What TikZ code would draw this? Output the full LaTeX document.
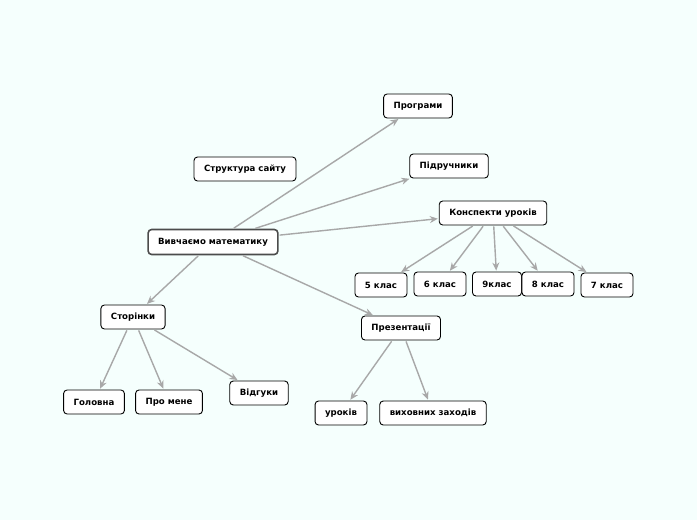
\documentclass[tikz,border=0pt]{standalone}
\usepackage{fontspec}
\setmainfont{DejaVu Sans}
\usepackage{tikz}
\usetikzlibrary{arrows.meta}
\definecolor{bgcol}{RGB}{245,255,253}
\definecolor{linecol}{RGB}{168,168,168}
\tikzset{
  topic/.style={draw=black, fill=white, rounded corners=3.5pt, line width=0.9pt,
    font=\bfseries\fontsize{8.6}{10}\selectfont, minimum height=24pt, inner xsep=10pt},
  maintopic/.style={topic, draw=black!70, line width=1.6pt, minimum height=25pt},
  link/.style={-{Stealth[length=8pt,width=7pt]}, draw=linecol, line width=1.4pt,
    shorten <=1pt, shorten >=1pt}
}
\begin{document}
\begin{tikzpicture}[x=1pt,y=-1pt]
\fill[bgcol] (0,0) rectangle (697,520);
\useasboundingbox (0,0) rectangle (697,520);

% centre
\node[maintopic] (main) at (213,242) {Вивчаємо математику};
\node[topic] (struct) at (245,169) {Структура сайту};

% right branch
\node[topic] (prog) at (418,106) {Програми};
\node[topic] (pidr) at (449,166) {Підручники};
\node[topic] (konsp) at (493,213) {Конспекти уроків};

% classes
\node[topic] (k5) at (381,285) {5 клас};
\node[topic] (k6) at (440,284) {6 клас};
\node[topic] (k9) at (497,284) {9клас};
\node[topic] (k8) at (548,284) {8 клас};
\node[topic] (k7) at (607,285) {7 клас};

% pages
\node[topic] (stor) at (133,317) {Сторінки};
\node[topic] (golov) at (94,402) {Головна};
\node[topic] (pro) at (169,402) {Про мене};
\node[topic] (vidg) at (259,393) {Відгуки};

% presentations
\node[topic] (prez) at (401,328) {Презентації};
\node[topic] (urok) at (341,413) {уроків};
\node[topic] (vyh) at (433,413) {виховних заходів};

% Arrows
\draw[link] (main) -- (prog);
\draw[link] (main) -- (pidr);
\draw[link] (main) -- (konsp);
\draw[link] (main) -- (stor);
\draw[link] (main) -- (prez);
\draw[link] (konsp) -- (k5);
\draw[link] (konsp) -- (k6);
\draw[link] (konsp) -- (k9);
\draw[link] (konsp) -- (k8);
\draw[link] (konsp) -- (k7);
\draw[link] (stor) -- (golov);
\draw[link] (stor) -- (pro);
\draw[link] (stor) -- (vidg);
\draw[link] (prez) -- (urok);
\draw[link] (prez) -- (vyh);

\end{tikzpicture}
\end{document}
